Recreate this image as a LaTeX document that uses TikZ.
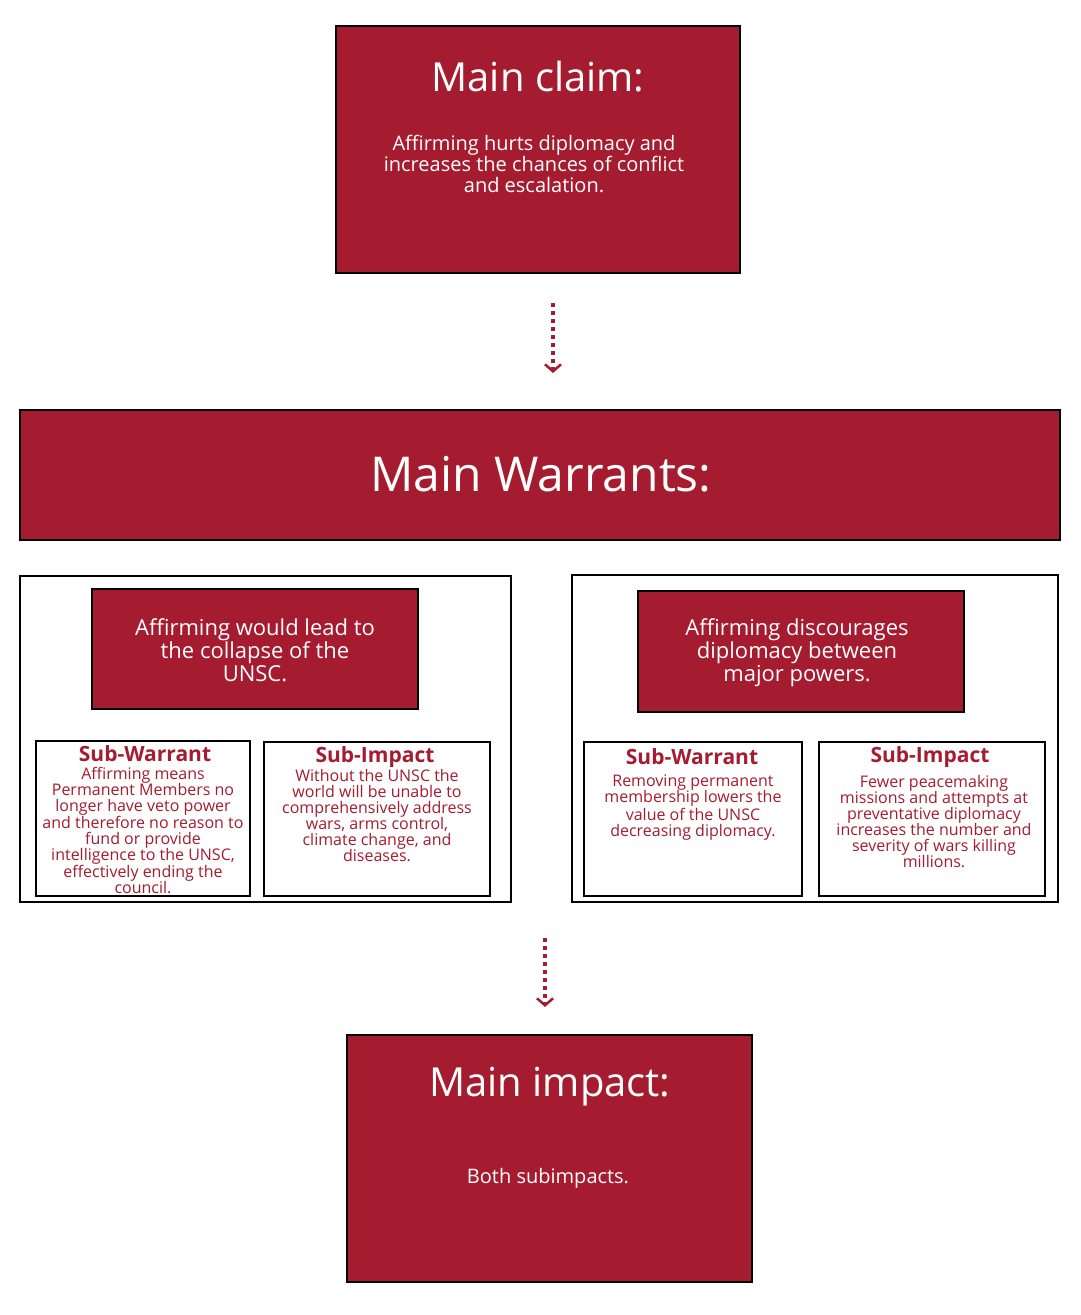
\documentclass[tikz,border=0pt]{standalone}
\usepackage{fontspec}
\setmainfont{Open Sans}
\usetikzlibrary{arrows.meta}
\definecolor{crim}{HTML}{A51C30}
\begin{document}
\begin{tikzpicture}[x=1pt,y=-1pt,
 redbox/.style={draw=black,line width=2pt,fill=crim},
 whitebox/.style={draw=black,line width=2pt,fill=white},
 wt/.style={text=white,align=center,inner sep=0},
 rt/.style={text=crim,align=center,inner sep=0},
 arr/.style={draw=crim,line width=3.5pt,dash pattern=on 4pt off 4pt,-{Straight Barb[length=7pt,width=16pt,line width=2.5pt]}}]
\useasboundingbox (0,0) rectangle (1080,1315);
\fill[white] (0,0) rectangle (1080,1315);
% main claim
\draw[redbox] (336,26) rectangle (740,273);
\node[wt,font=\fontsize{40}{44}\selectfont] (mct) at (538,77) {Main claim:};
\node[wt,font=\fontsize{20}{21}\selectfont] (mcb) at (534,164) {Affirming hurts diplomacy and\\increases the chances of conflict\\and escalation.};
\coordinate (a1s) at (553,303); \coordinate (a1e) at (553,373);
\draw[arr] (a1s) -- (a1e);
% warrants
\draw[redbox] (20,410) rectangle (1060,540);
\node[wt,font=\fontsize{48}{52}\selectfont] (mw) at (541,474) {Main Warrants:};
\draw[whitebox] (20,576) rectangle (511,902);
\draw[whitebox] (572,575) rectangle (1058,902);
\draw[redbox] (92,589) rectangle (418,709);
\node[wt,font=\fontsize{22}{23}\selectfont] (lw) at (255,650) {Affirming would lead to\\the collapse of the\\UNSC.};
\draw[redbox] (638,591) rectangle (964,712);
\node[wt,font=\fontsize{22}{23}\selectfont] (rw) at (797,653) {Affirming discourages\\diplomacy between\\major powers.};
% sub boxes
\draw[whitebox] (36,741) rectangle (250,896);
\draw[whitebox] (264,742) rectangle (490,896);
\draw[whitebox] (584,742) rectangle (802,896);
\draw[whitebox] (819,742) rectangle (1045,896);
\tikzset{st/.style={rt,font=\fontsize{21}{22}\selectfont\bfseries},
 sb/.style={rt,font=\fontsize{16}{16}\selectfont,anchor=north}}
\node[st] (t1) at (145,754) {Sub-Warrant};
\node[sb] (b1) at (143,767) {Affirming means\\Permanent Members no\\longer have veto power\\and therefore no reason to\\fund or provide\\intelligence to the UNSC,\\effectively ending the\\council.};
\node[st] (t2) at (375,757) {Sub-Impact};
\node[sb] (b2) at (377,769) {Without the UNSC the\\world will be unable to\\comprehensively address\\wars, arms control,\\climate change, and\\diseases.};
\node[st] (t3) at (692,757) {Sub-Warrant};
\node[sb] (b3) at (693,775) {Removing permanent\\membership lowers the\\value of the UNSC\\decreasing diplomacy.};
\node[st] (t4) at (930,757) {Sub-Impact};
\node[sb] (b4) at (934,775) {Fewer peacemaking\\missions and attempts at\\preventative diplomacy\\increases the number and\\severity of wars killing\\millions.};
\coordinate (a2s) at (545,938); \coordinate (a2e) at (545,1007);
\draw[arr] (a2s) -- (a2e);
% impact
\draw[redbox] (347,1035) rectangle (752,1282);
\node[wt,font=\fontsize{40}{44}\selectfont] (mi) at (550,1087) {Main impact:};
\node[wt,font=\fontsize{20}{21}\selectfont] (mib) at (548,1178) {Both subimpacts.};
\end{tikzpicture}
\end{document}
